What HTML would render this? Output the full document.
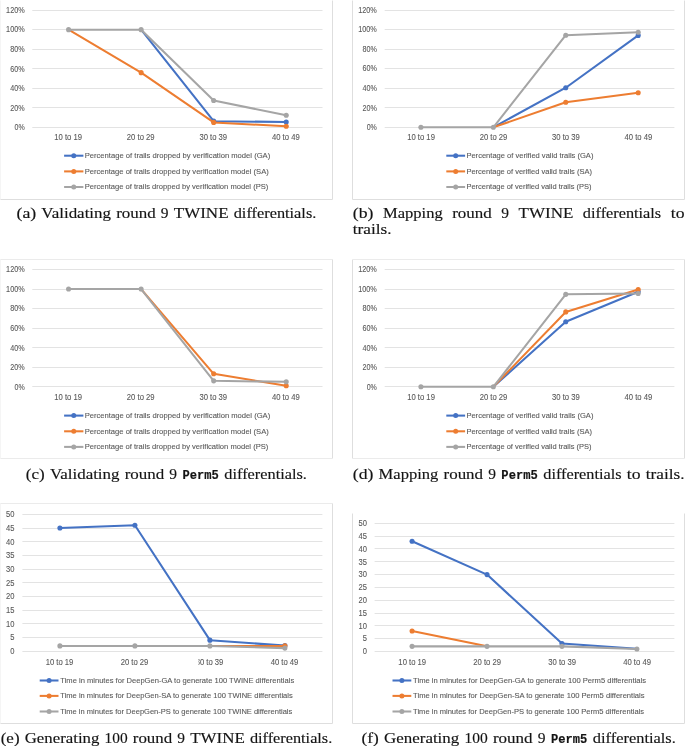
<!DOCTYPE html>
<html lang="en"><head><meta charset="utf-8"><title>Figure</title>
<style>html,body{margin:0;padding:0;background:#fff}svg{display:block}text{white-space:pre}.c text{stroke:#595959;stroke-width:.1px}</style></head><body>
<svg width="685" height="746" viewBox="0 0 685 746">
<rect width="685" height="746" fill="#fff"/>
<g class="c" font-family='"Liberation Sans", sans-serif' fill="#595959">
<path d="M0.5 0.5V199.5" stroke="#F5F5F5" stroke-width="1" fill="none"/>
<path d="M332.5 0.5V199.5" stroke="#DEDEDE" stroke-width="1" fill="none"/>
<path d="M0.5 199.5H332.5" stroke="#DEDEDE" stroke-width="1" fill="none"/>
<line x1="32.30" x2="322.50" y1="127.5" y2="127.5" stroke="#E3E3E3" stroke-width="1"/>
<text x="24.70" y="130.10" font-size="8.7" text-anchor="end" textLength="10.16" lengthAdjust="spacingAndGlyphs">0%</text>
<line x1="32.30" x2="322.50" y1="107.5" y2="107.5" stroke="#E3E3E3" stroke-width="1"/>
<text x="24.70" y="110.58" font-size="8.7" text-anchor="end" textLength="14.38" lengthAdjust="spacingAndGlyphs">20%</text>
<line x1="32.30" x2="322.50" y1="88.5" y2="88.5" stroke="#E3E3E3" stroke-width="1"/>
<text x="24.70" y="91.05" font-size="8.7" text-anchor="end" textLength="14.38" lengthAdjust="spacingAndGlyphs">40%</text>
<line x1="32.30" x2="322.50" y1="68.5" y2="68.5" stroke="#E3E3E3" stroke-width="1"/>
<text x="24.70" y="71.52" font-size="8.7" text-anchor="end" textLength="14.38" lengthAdjust="spacingAndGlyphs">60%</text>
<line x1="32.30" x2="322.50" y1="49.5" y2="49.5" stroke="#E3E3E3" stroke-width="1"/>
<text x="24.70" y="52.00" font-size="8.7" text-anchor="end" textLength="14.38" lengthAdjust="spacingAndGlyphs">80%</text>
<line x1="32.30" x2="322.50" y1="29.5" y2="29.5" stroke="#E3E3E3" stroke-width="1"/>
<text x="24.70" y="32.47" font-size="8.7" text-anchor="end" textLength="18.60" lengthAdjust="spacingAndGlyphs">100%</text>
<line x1="32.30" x2="322.50" y1="10.5" y2="10.5" stroke="#E3E3E3" stroke-width="1"/>
<text x="24.70" y="12.95" font-size="8.7" text-anchor="end" textLength="18.60" lengthAdjust="spacingAndGlyphs">120%</text>
<text x="68.17" y="140.00" font-size="8.7" text-anchor="middle" textLength="27.72" lengthAdjust="spacingAndGlyphs">10 to 19</text>
<text x="140.72" y="140.00" font-size="8.7" text-anchor="middle" textLength="27.72" lengthAdjust="spacingAndGlyphs">20 to 29</text>
<text x="213.28" y="140.00" font-size="8.7" text-anchor="middle" textLength="27.72" lengthAdjust="spacingAndGlyphs">30 to 39</text>
<text x="285.82" y="140.00" font-size="8.7" text-anchor="middle" textLength="27.72" lengthAdjust="spacingAndGlyphs">40 to 49</text>
<polyline points="141.12,29.67 213.68,121.15 286.22,122.03" fill="none" stroke="#4472C4" stroke-width="2.05" stroke-linejoin="round" stroke-linecap="round"/>
<circle cx="213.68" cy="121.15" r="2.55" fill="#4472C4"/>
<circle cx="286.22" cy="122.03" r="2.55" fill="#4472C4"/>
<polyline points="68.57,29.67 141.12,72.63 213.68,122.42 286.22,126.32" fill="none" stroke="#ED7D31" stroke-width="2.05" stroke-linejoin="round" stroke-linecap="round"/>
<circle cx="141.12" cy="72.63" r="2.55" fill="#ED7D31"/>
<circle cx="213.68" cy="122.42" r="2.55" fill="#ED7D31"/>
<circle cx="286.22" cy="126.32" r="2.55" fill="#ED7D31"/>
<polyline points="68.57,29.67 141.12,29.67 213.68,100.55 286.22,115.29" fill="none" stroke="#A5A5A5" stroke-width="2.05" stroke-linejoin="round" stroke-linecap="round"/>
<circle cx="68.57" cy="29.67" r="2.55" fill="#A5A5A5"/>
<circle cx="141.12" cy="29.67" r="2.55" fill="#A5A5A5"/>
<circle cx="213.68" cy="100.55" r="2.55" fill="#A5A5A5"/>
<circle cx="286.22" cy="115.29" r="2.55" fill="#A5A5A5"/>
<line x1="64.10" x2="83.40" y1="155.70" y2="155.70" stroke="#4472C4" stroke-width="2.05"/>
<circle cx="73.75" cy="155.70" r="2.5" fill="#4472C4"/>
<text x="84.70" y="158.05" font-size="8.0" textLength="185.55" lengthAdjust="spacingAndGlyphs">Percentage of trails dropped by verification model (GA)</text>
<line x1="64.10" x2="83.40" y1="171.40" y2="171.40" stroke="#ED7D31" stroke-width="2.05"/>
<circle cx="73.75" cy="171.40" r="2.5" fill="#ED7D31"/>
<text x="84.70" y="173.75" font-size="8.0" textLength="184.06" lengthAdjust="spacingAndGlyphs">Percentage of trails dropped by verification model (SA)</text>
<line x1="64.10" x2="83.40" y1="187.00" y2="187.00" stroke="#A5A5A5" stroke-width="2.05"/>
<circle cx="73.75" cy="187.00" r="2.5" fill="#A5A5A5"/>
<text x="84.70" y="189.35" font-size="8.0" textLength="183.60" lengthAdjust="spacingAndGlyphs">Percentage of trails dropped by verification model (PS)</text>
</g>
<g class="c" font-family='"Liberation Sans", sans-serif' fill="#595959">
<path d="M352.5 0.5V199.5" stroke="#DEDEDE" stroke-width="1" fill="none"/>
<path d="M684.5 0.5V199.5" stroke="#DEDEDE" stroke-width="1" fill="none"/>
<path d="M352.5 199.5H684.5" stroke="#DEDEDE" stroke-width="1" fill="none"/>
<line x1="384.70" x2="674.40" y1="127.5" y2="127.5" stroke="#E3E3E3" stroke-width="1"/>
<text x="376.80" y="130.10" font-size="8.7" text-anchor="end" textLength="10.16" lengthAdjust="spacingAndGlyphs">0%</text>
<line x1="384.70" x2="674.40" y1="107.5" y2="107.5" stroke="#E3E3E3" stroke-width="1"/>
<text x="376.80" y="110.55" font-size="8.7" text-anchor="end" textLength="14.38" lengthAdjust="spacingAndGlyphs">20%</text>
<line x1="384.70" x2="674.40" y1="88.5" y2="88.5" stroke="#E3E3E3" stroke-width="1"/>
<text x="376.80" y="91.00" font-size="8.7" text-anchor="end" textLength="14.38" lengthAdjust="spacingAndGlyphs">40%</text>
<line x1="384.70" x2="674.40" y1="68.5" y2="68.5" stroke="#E3E3E3" stroke-width="1"/>
<text x="376.80" y="71.45" font-size="8.7" text-anchor="end" textLength="14.38" lengthAdjust="spacingAndGlyphs">60%</text>
<line x1="384.70" x2="674.40" y1="49.5" y2="49.5" stroke="#E3E3E3" stroke-width="1"/>
<text x="376.80" y="51.90" font-size="8.7" text-anchor="end" textLength="14.38" lengthAdjust="spacingAndGlyphs">80%</text>
<line x1="384.70" x2="674.40" y1="29.5" y2="29.5" stroke="#E3E3E3" stroke-width="1"/>
<text x="376.80" y="32.35" font-size="8.7" text-anchor="end" textLength="18.60" lengthAdjust="spacingAndGlyphs">100%</text>
<line x1="384.70" x2="674.40" y1="10.5" y2="10.5" stroke="#E3E3E3" stroke-width="1"/>
<text x="376.80" y="12.80" font-size="8.7" text-anchor="end" textLength="18.60" lengthAdjust="spacingAndGlyphs">120%</text>
<text x="421.06" y="140.00" font-size="8.7" text-anchor="middle" textLength="27.72" lengthAdjust="spacingAndGlyphs">10 to 19</text>
<text x="493.49" y="140.00" font-size="8.7" text-anchor="middle" textLength="27.72" lengthAdjust="spacingAndGlyphs">20 to 29</text>
<text x="565.91" y="140.00" font-size="8.7" text-anchor="middle" textLength="27.72" lengthAdjust="spacingAndGlyphs">30 to 39</text>
<text x="638.34" y="140.00" font-size="8.7" text-anchor="middle" textLength="27.72" lengthAdjust="spacingAndGlyphs">40 to 49</text>
<polyline points="493.34,127.30 565.76,87.71 638.19,35.42" fill="none" stroke="#4472C4" stroke-width="2.05" stroke-linejoin="round" stroke-linecap="round"/>
<circle cx="565.76" cy="87.71" r="2.55" fill="#4472C4"/>
<circle cx="638.19" cy="35.42" r="2.55" fill="#4472C4"/>
<polyline points="493.34,127.30 565.76,102.28 638.19,92.70" fill="none" stroke="#ED7D31" stroke-width="2.05" stroke-linejoin="round" stroke-linecap="round"/>
<circle cx="565.76" cy="102.28" r="2.55" fill="#ED7D31"/>
<circle cx="638.19" cy="92.70" r="2.55" fill="#ED7D31"/>
<polyline points="420.91,127.30 493.34,127.30 565.76,35.22 638.19,32.19" fill="none" stroke="#A5A5A5" stroke-width="2.05" stroke-linejoin="round" stroke-linecap="round"/>
<circle cx="420.91" cy="127.30" r="2.55" fill="#A5A5A5"/>
<circle cx="493.34" cy="127.30" r="2.55" fill="#A5A5A5"/>
<circle cx="565.76" cy="35.22" r="2.55" fill="#A5A5A5"/>
<circle cx="638.19" cy="32.19" r="2.55" fill="#A5A5A5"/>
<line x1="446.30" x2="465.10" y1="155.70" y2="155.70" stroke="#4472C4" stroke-width="2.05"/>
<circle cx="455.70" cy="155.70" r="2.5" fill="#4472C4"/>
<text x="466.40" y="158.05" font-size="8.0" textLength="127.03" lengthAdjust="spacingAndGlyphs">Percentage of verified valid trails (GA)</text>
<line x1="446.30" x2="465.10" y1="171.40" y2="171.40" stroke="#ED7D31" stroke-width="2.05"/>
<circle cx="455.70" cy="171.40" r="2.5" fill="#ED7D31"/>
<text x="466.40" y="173.75" font-size="8.0" textLength="125.54" lengthAdjust="spacingAndGlyphs">Percentage of verified valid trails (SA)</text>
<line x1="446.30" x2="465.10" y1="187.00" y2="187.00" stroke="#A5A5A5" stroke-width="2.05"/>
<circle cx="455.70" cy="187.00" r="2.5" fill="#A5A5A5"/>
<text x="466.40" y="189.35" font-size="8.0" textLength="125.08" lengthAdjust="spacingAndGlyphs">Percentage of verified valid trails (PS)</text>
</g>
<g class="c" font-family='"Liberation Sans", sans-serif' fill="#595959">
<path d="M0.5 259.5V458.5" stroke="#F5F5F5" stroke-width="1" fill="none"/>
<path d="M0.5 259.5H332.5" stroke="#EBEBEB" stroke-width="1" fill="none"/>
<path d="M332.5 259.5V458.5" stroke="#DEDEDE" stroke-width="1" fill="none"/>
<path d="M0.5 458.5H332.5" stroke="#EBEBEB" stroke-width="1" fill="none"/>
<line x1="32.30" x2="322.50" y1="386.5" y2="386.5" stroke="#E3E3E3" stroke-width="1"/>
<text x="24.70" y="389.60" font-size="8.7" text-anchor="end" textLength="10.16" lengthAdjust="spacingAndGlyphs">0%</text>
<line x1="32.30" x2="322.50" y1="367.5" y2="367.5" stroke="#E3E3E3" stroke-width="1"/>
<text x="24.70" y="370.05" font-size="8.7" text-anchor="end" textLength="14.38" lengthAdjust="spacingAndGlyphs">20%</text>
<line x1="32.30" x2="322.50" y1="347.5" y2="347.5" stroke="#E3E3E3" stroke-width="1"/>
<text x="24.70" y="350.50" font-size="8.7" text-anchor="end" textLength="14.38" lengthAdjust="spacingAndGlyphs">40%</text>
<line x1="32.30" x2="322.50" y1="328.5" y2="328.5" stroke="#E3E3E3" stroke-width="1"/>
<text x="24.70" y="330.95" font-size="8.7" text-anchor="end" textLength="14.38" lengthAdjust="spacingAndGlyphs">60%</text>
<line x1="32.30" x2="322.50" y1="308.5" y2="308.5" stroke="#E3E3E3" stroke-width="1"/>
<text x="24.70" y="311.40" font-size="8.7" text-anchor="end" textLength="14.38" lengthAdjust="spacingAndGlyphs">80%</text>
<line x1="32.30" x2="322.50" y1="289.5" y2="289.5" stroke="#E3E3E3" stroke-width="1"/>
<text x="24.70" y="291.85" font-size="8.7" text-anchor="end" textLength="18.60" lengthAdjust="spacingAndGlyphs">100%</text>
<line x1="32.30" x2="322.50" y1="269.5" y2="269.5" stroke="#E3E3E3" stroke-width="1"/>
<text x="24.70" y="272.30" font-size="8.7" text-anchor="end" textLength="18.60" lengthAdjust="spacingAndGlyphs">120%</text>
<text x="68.17" y="399.80" font-size="8.7" text-anchor="middle" textLength="27.72" lengthAdjust="spacingAndGlyphs">10 to 19</text>
<text x="140.72" y="399.80" font-size="8.7" text-anchor="middle" textLength="27.72" lengthAdjust="spacingAndGlyphs">20 to 29</text>
<text x="213.28" y="399.80" font-size="8.7" text-anchor="middle" textLength="27.72" lengthAdjust="spacingAndGlyphs">30 to 39</text>
<text x="285.82" y="399.80" font-size="8.7" text-anchor="middle" textLength="27.72" lengthAdjust="spacingAndGlyphs">40 to 49</text>
<polyline points="141.12,289.05 213.68,373.80 286.22,385.82" fill="none" stroke="#ED7D31" stroke-width="2.05" stroke-linejoin="round" stroke-linecap="round"/>
<circle cx="213.68" cy="373.80" r="2.55" fill="#ED7D31"/>
<circle cx="286.22" cy="385.82" r="2.55" fill="#ED7D31"/>
<polyline points="68.57,289.05 141.12,289.05 213.68,380.84 286.22,381.81" fill="none" stroke="#A5A5A5" stroke-width="2.05" stroke-linejoin="round" stroke-linecap="round"/>
<circle cx="68.57" cy="289.05" r="2.55" fill="#A5A5A5"/>
<circle cx="141.12" cy="289.05" r="2.55" fill="#A5A5A5"/>
<circle cx="213.68" cy="380.84" r="2.55" fill="#A5A5A5"/>
<circle cx="286.22" cy="381.81" r="2.55" fill="#A5A5A5"/>
<line x1="64.10" x2="83.40" y1="415.60" y2="415.60" stroke="#4472C4" stroke-width="2.05"/>
<circle cx="73.75" cy="415.60" r="2.5" fill="#4472C4"/>
<text x="84.70" y="417.95" font-size="8.0" textLength="185.55" lengthAdjust="spacingAndGlyphs">Percentage of trails dropped by verification model (GA)</text>
<line x1="64.10" x2="83.40" y1="431.30" y2="431.30" stroke="#ED7D31" stroke-width="2.05"/>
<circle cx="73.75" cy="431.30" r="2.5" fill="#ED7D31"/>
<text x="84.70" y="433.65" font-size="8.0" textLength="184.06" lengthAdjust="spacingAndGlyphs">Percentage of trails dropped by verification model (SA)</text>
<line x1="64.10" x2="83.40" y1="446.90" y2="446.90" stroke="#A5A5A5" stroke-width="2.05"/>
<circle cx="73.75" cy="446.90" r="2.5" fill="#A5A5A5"/>
<text x="84.70" y="449.25" font-size="8.0" textLength="183.60" lengthAdjust="spacingAndGlyphs">Percentage of trails dropped by verification model (PS)</text>
</g>
<g class="c" font-family='"Liberation Sans", sans-serif' fill="#595959">
<path d="M352.5 259.5V458.5" stroke="#DEDEDE" stroke-width="1" fill="none"/>
<path d="M352.5 259.5H684.5" stroke="#EBEBEB" stroke-width="1" fill="none"/>
<path d="M684.5 259.5V458.5" stroke="#DEDEDE" stroke-width="1" fill="none"/>
<path d="M352.5 458.5H684.5" stroke="#EBEBEB" stroke-width="1" fill="none"/>
<line x1="384.70" x2="674.40" y1="386.5" y2="386.5" stroke="#E3E3E3" stroke-width="1"/>
<text x="376.80" y="389.60" font-size="8.7" text-anchor="end" textLength="10.16" lengthAdjust="spacingAndGlyphs">0%</text>
<line x1="384.70" x2="674.40" y1="367.5" y2="367.5" stroke="#E3E3E3" stroke-width="1"/>
<text x="376.80" y="370.05" font-size="8.7" text-anchor="end" textLength="14.38" lengthAdjust="spacingAndGlyphs">20%</text>
<line x1="384.70" x2="674.40" y1="347.5" y2="347.5" stroke="#E3E3E3" stroke-width="1"/>
<text x="376.80" y="350.50" font-size="8.7" text-anchor="end" textLength="14.38" lengthAdjust="spacingAndGlyphs">40%</text>
<line x1="384.70" x2="674.40" y1="328.5" y2="328.5" stroke="#E3E3E3" stroke-width="1"/>
<text x="376.80" y="330.95" font-size="8.7" text-anchor="end" textLength="14.38" lengthAdjust="spacingAndGlyphs">60%</text>
<line x1="384.70" x2="674.40" y1="308.5" y2="308.5" stroke="#E3E3E3" stroke-width="1"/>
<text x="376.80" y="311.40" font-size="8.7" text-anchor="end" textLength="14.38" lengthAdjust="spacingAndGlyphs">80%</text>
<line x1="384.70" x2="674.40" y1="289.5" y2="289.5" stroke="#E3E3E3" stroke-width="1"/>
<text x="376.80" y="291.85" font-size="8.7" text-anchor="end" textLength="18.60" lengthAdjust="spacingAndGlyphs">100%</text>
<line x1="384.70" x2="674.40" y1="269.5" y2="269.5" stroke="#E3E3E3" stroke-width="1"/>
<text x="376.80" y="272.30" font-size="8.7" text-anchor="end" textLength="18.60" lengthAdjust="spacingAndGlyphs">120%</text>
<text x="421.06" y="399.80" font-size="8.7" text-anchor="middle" textLength="27.72" lengthAdjust="spacingAndGlyphs">10 to 19</text>
<text x="493.49" y="399.80" font-size="8.7" text-anchor="middle" textLength="27.72" lengthAdjust="spacingAndGlyphs">20 to 29</text>
<text x="565.91" y="399.80" font-size="8.7" text-anchor="middle" textLength="27.72" lengthAdjust="spacingAndGlyphs">30 to 39</text>
<text x="638.34" y="399.80" font-size="8.7" text-anchor="middle" textLength="27.72" lengthAdjust="spacingAndGlyphs">40 to 49</text>
<polyline points="493.34,386.80 565.76,321.70 638.19,291.69" fill="none" stroke="#4472C4" stroke-width="2.05" stroke-linejoin="round" stroke-linecap="round"/>
<circle cx="565.76" cy="321.70" r="2.55" fill="#4472C4"/>
<circle cx="638.19" cy="291.69" r="2.55" fill="#4472C4"/>
<polyline points="493.34,386.80 565.76,311.92 638.19,289.44" fill="none" stroke="#ED7D31" stroke-width="2.05" stroke-linejoin="round" stroke-linecap="round"/>
<circle cx="565.76" cy="311.92" r="2.55" fill="#ED7D31"/>
<circle cx="638.19" cy="289.44" r="2.55" fill="#ED7D31"/>
<polyline points="420.91,386.80 493.34,386.80 565.76,294.33 638.19,293.45" fill="none" stroke="#A5A5A5" stroke-width="2.05" stroke-linejoin="round" stroke-linecap="round"/>
<circle cx="420.91" cy="386.80" r="2.55" fill="#A5A5A5"/>
<circle cx="493.34" cy="386.80" r="2.55" fill="#A5A5A5"/>
<circle cx="565.76" cy="294.33" r="2.55" fill="#A5A5A5"/>
<circle cx="638.19" cy="293.45" r="2.55" fill="#A5A5A5"/>
<line x1="446.30" x2="465.10" y1="415.60" y2="415.60" stroke="#4472C4" stroke-width="2.05"/>
<circle cx="455.70" cy="415.60" r="2.5" fill="#4472C4"/>
<text x="466.40" y="417.95" font-size="8.0" textLength="127.03" lengthAdjust="spacingAndGlyphs">Percentage of verified valid trails (GA)</text>
<line x1="446.30" x2="465.10" y1="431.30" y2="431.30" stroke="#ED7D31" stroke-width="2.05"/>
<circle cx="455.70" cy="431.30" r="2.5" fill="#ED7D31"/>
<text x="466.40" y="433.65" font-size="8.0" textLength="125.54" lengthAdjust="spacingAndGlyphs">Percentage of verified valid trails (SA)</text>
<line x1="446.30" x2="465.10" y1="446.90" y2="446.90" stroke="#A5A5A5" stroke-width="2.05"/>
<circle cx="455.70" cy="446.90" r="2.5" fill="#A5A5A5"/>
<text x="466.40" y="449.25" font-size="8.0" textLength="125.08" lengthAdjust="spacingAndGlyphs">Percentage of verified valid trails (PS)</text>
</g>
<g class="c" font-family='"Liberation Sans", sans-serif' fill="#595959">
<path d="M0.5 503.5V723.5" stroke="#F5F5F5" stroke-width="1" fill="none"/>
<path d="M0.5 503.5H332.5" stroke="#EBEBEB" stroke-width="1" fill="none"/>
<path d="M332.5 503.5V723.5" stroke="#DEDEDE" stroke-width="1" fill="none"/>
<path d="M0.5 723.5H332.5" stroke="#DEDEDE" stroke-width="1" fill="none"/>
<line x1="22.40" x2="322.40" y1="651.5" y2="651.5" stroke="#E3E3E3" stroke-width="1"/>
<text x="14.40" y="654.20" font-size="8.7" text-anchor="end" textLength="4.22" lengthAdjust="spacingAndGlyphs">0</text>
<line x1="22.40" x2="322.40" y1="637.5" y2="637.5" stroke="#E3E3E3" stroke-width="1"/>
<text x="14.40" y="640.49" font-size="8.7" text-anchor="end" textLength="4.22" lengthAdjust="spacingAndGlyphs">5</text>
<line x1="22.40" x2="322.40" y1="623.5" y2="623.5" stroke="#E3E3E3" stroke-width="1"/>
<text x="14.40" y="626.78" font-size="8.7" text-anchor="end" textLength="8.43" lengthAdjust="spacingAndGlyphs">10</text>
<line x1="22.40" x2="322.40" y1="610.5" y2="610.5" stroke="#E3E3E3" stroke-width="1"/>
<text x="14.40" y="613.07" font-size="8.7" text-anchor="end" textLength="8.43" lengthAdjust="spacingAndGlyphs">15</text>
<line x1="22.40" x2="322.40" y1="596.5" y2="596.5" stroke="#E3E3E3" stroke-width="1"/>
<text x="14.40" y="599.36" font-size="8.7" text-anchor="end" textLength="8.43" lengthAdjust="spacingAndGlyphs">20</text>
<line x1="22.40" x2="322.40" y1="582.5" y2="582.5" stroke="#E3E3E3" stroke-width="1"/>
<text x="14.40" y="585.65" font-size="8.7" text-anchor="end" textLength="8.43" lengthAdjust="spacingAndGlyphs">25</text>
<line x1="22.40" x2="322.40" y1="569.5" y2="569.5" stroke="#E3E3E3" stroke-width="1"/>
<text x="14.40" y="571.94" font-size="8.7" text-anchor="end" textLength="8.43" lengthAdjust="spacingAndGlyphs">30</text>
<line x1="22.40" x2="322.40" y1="555.5" y2="555.5" stroke="#E3E3E3" stroke-width="1"/>
<text x="14.40" y="558.23" font-size="8.7" text-anchor="end" textLength="8.43" lengthAdjust="spacingAndGlyphs">35</text>
<line x1="22.40" x2="322.40" y1="541.5" y2="541.5" stroke="#E3E3E3" stroke-width="1"/>
<text x="14.40" y="544.52" font-size="8.7" text-anchor="end" textLength="8.43" lengthAdjust="spacingAndGlyphs">40</text>
<line x1="22.40" x2="322.40" y1="528.5" y2="528.5" stroke="#E3E3E3" stroke-width="1"/>
<text x="14.40" y="530.81" font-size="8.7" text-anchor="end" textLength="8.43" lengthAdjust="spacingAndGlyphs">45</text>
<line x1="22.40" x2="322.40" y1="514.5" y2="514.5" stroke="#E3E3E3" stroke-width="1"/>
<text x="14.40" y="517.10" font-size="8.7" text-anchor="end" textLength="8.43" lengthAdjust="spacingAndGlyphs">50</text>
<text x="59.50" y="664.80" font-size="8.7" text-anchor="middle" textLength="27.72" lengthAdjust="spacingAndGlyphs">10 to 19</text>
<text x="134.50" y="664.80" font-size="8.7" text-anchor="middle" textLength="27.72" lengthAdjust="spacingAndGlyphs">20 to 29</text>
<text x="209.50" y="664.80" font-size="8.7" text-anchor="middle" textLength="27.72" lengthAdjust="spacingAndGlyphs">30 to 39</text>
<text x="284.50" y="664.80" font-size="8.7" text-anchor="middle" textLength="27.72" lengthAdjust="spacingAndGlyphs">40 to 49</text>
<polyline points="59.90,528.01 134.90,525.27 209.90,640.16 284.90,645.64" fill="none" stroke="#4472C4" stroke-width="2.05" stroke-linejoin="round" stroke-linecap="round"/>
<circle cx="59.90" cy="528.01" r="2.55" fill="#4472C4"/>
<circle cx="134.90" cy="525.27" r="2.55" fill="#4472C4"/>
<circle cx="209.90" cy="640.16" r="2.55" fill="#4472C4"/>
<circle cx="284.90" cy="645.64" r="2.55" fill="#4472C4"/>
<polyline points="209.90,645.92 284.90,645.92" fill="none" stroke="#ED7D31" stroke-width="2.05" stroke-linejoin="round" stroke-linecap="round"/>
<circle cx="284.90" cy="645.92" r="2.55" fill="#ED7D31"/>
<polyline points="59.90,645.92 134.90,645.92 209.90,645.92 284.90,648.11" fill="none" stroke="#A5A5A5" stroke-width="2.05" stroke-linejoin="round" stroke-linecap="round"/>
<circle cx="59.90" cy="645.92" r="2.55" fill="#A5A5A5"/>
<circle cx="134.90" cy="645.92" r="2.55" fill="#A5A5A5"/>
<circle cx="209.90" cy="645.92" r="2.55" fill="#A5A5A5"/>
<circle cx="284.90" cy="648.11" r="2.55" fill="#A5A5A5"/>
<line x1="39.70" x2="58.50" y1="680.50" y2="680.50" stroke="#4472C4" stroke-width="2.05"/>
<circle cx="49.10" cy="680.50" r="2.5" fill="#4472C4"/>
<text x="60.30" y="682.85" font-size="8.0" textLength="233.92" lengthAdjust="spacingAndGlyphs">Time in minutes for DeepGen-GA to generate 100 TWINE differentials</text>
<line x1="39.70" x2="58.50" y1="695.90" y2="695.90" stroke="#ED7D31" stroke-width="2.05"/>
<circle cx="49.10" cy="695.90" r="2.5" fill="#ED7D31"/>
<text x="60.30" y="698.25" font-size="8.0" textLength="232.43" lengthAdjust="spacingAndGlyphs">Time in minutes for DeepGen-SA to generate 100 TWINE differentials</text>
<line x1="39.70" x2="58.50" y1="711.50" y2="711.50" stroke="#A5A5A5" stroke-width="2.05"/>
<circle cx="49.10" cy="711.50" r="2.5" fill="#A5A5A5"/>
<text x="60.30" y="713.85" font-size="8.0" textLength="231.98" lengthAdjust="spacingAndGlyphs">Time in minutes for DeepGen-PS to generate 100 TWINE differentials</text>
</g>
<rect x="193" y="656" width="5.5" height="12" fill="#fff"/>
<g class="c" font-family='"Liberation Sans", sans-serif' fill="#595959">
<path d="M352.5 513.5V723.5" stroke="#DEDEDE" stroke-width="1" fill="none"/>
<path d="M684.5 513.5V723.5" stroke="#DEDEDE" stroke-width="1" fill="none"/>
<path d="M352.5 723.5H684.5" stroke="#DEDEDE" stroke-width="1" fill="none"/>
<line x1="374.60" x2="674.40" y1="651.5" y2="651.5" stroke="#E3E3E3" stroke-width="1"/>
<text x="366.90" y="654.30" font-size="8.7" text-anchor="end" textLength="4.22" lengthAdjust="spacingAndGlyphs">0</text>
<line x1="374.60" x2="674.40" y1="638.5" y2="638.5" stroke="#E3E3E3" stroke-width="1"/>
<text x="366.90" y="641.48" font-size="8.7" text-anchor="end" textLength="4.22" lengthAdjust="spacingAndGlyphs">5</text>
<line x1="374.60" x2="674.40" y1="625.5" y2="625.5" stroke="#E3E3E3" stroke-width="1"/>
<text x="366.90" y="628.67" font-size="8.7" text-anchor="end" textLength="8.43" lengthAdjust="spacingAndGlyphs">10</text>
<line x1="374.60" x2="674.40" y1="613.5" y2="613.5" stroke="#E3E3E3" stroke-width="1"/>
<text x="366.90" y="615.86" font-size="8.7" text-anchor="end" textLength="8.43" lengthAdjust="spacingAndGlyphs">15</text>
<line x1="374.60" x2="674.40" y1="600.5" y2="600.5" stroke="#E3E3E3" stroke-width="1"/>
<text x="366.90" y="603.04" font-size="8.7" text-anchor="end" textLength="8.43" lengthAdjust="spacingAndGlyphs">20</text>
<line x1="374.60" x2="674.40" y1="587.5" y2="587.5" stroke="#E3E3E3" stroke-width="1"/>
<text x="366.90" y="590.22" font-size="8.7" text-anchor="end" textLength="8.43" lengthAdjust="spacingAndGlyphs">25</text>
<line x1="374.60" x2="674.40" y1="574.5" y2="574.5" stroke="#E3E3E3" stroke-width="1"/>
<text x="366.90" y="577.41" font-size="8.7" text-anchor="end" textLength="8.43" lengthAdjust="spacingAndGlyphs">30</text>
<line x1="374.60" x2="674.40" y1="561.5" y2="561.5" stroke="#E3E3E3" stroke-width="1"/>
<text x="366.90" y="564.60" font-size="8.7" text-anchor="end" textLength="8.43" lengthAdjust="spacingAndGlyphs">35</text>
<line x1="374.60" x2="674.40" y1="548.5" y2="548.5" stroke="#E3E3E3" stroke-width="1"/>
<text x="366.90" y="551.78" font-size="8.7" text-anchor="end" textLength="8.43" lengthAdjust="spacingAndGlyphs">40</text>
<line x1="374.60" x2="674.40" y1="536.5" y2="536.5" stroke="#E3E3E3" stroke-width="1"/>
<text x="366.90" y="538.96" font-size="8.7" text-anchor="end" textLength="8.43" lengthAdjust="spacingAndGlyphs">45</text>
<line x1="374.60" x2="674.40" y1="523.5" y2="523.5" stroke="#E3E3E3" stroke-width="1"/>
<text x="366.90" y="526.15" font-size="8.7" text-anchor="end" textLength="8.43" lengthAdjust="spacingAndGlyphs">50</text>
<text x="412.23" y="664.60" font-size="8.7" text-anchor="middle" textLength="27.72" lengthAdjust="spacingAndGlyphs">10 to 19</text>
<text x="487.17" y="664.60" font-size="8.7" text-anchor="middle" textLength="27.72" lengthAdjust="spacingAndGlyphs">20 to 29</text>
<text x="562.12" y="664.60" font-size="8.7" text-anchor="middle" textLength="27.72" lengthAdjust="spacingAndGlyphs">30 to 39</text>
<text x="637.07" y="664.60" font-size="8.7" text-anchor="middle" textLength="27.72" lengthAdjust="spacingAndGlyphs">40 to 49</text>
<polyline points="412.08,541.29 487.02,574.61 561.98,643.55 636.92,648.68" fill="none" stroke="#4472C4" stroke-width="2.05" stroke-linejoin="round" stroke-linecap="round"/>
<circle cx="412.08" cy="541.29" r="2.55" fill="#4472C4"/>
<circle cx="487.02" cy="574.61" r="2.55" fill="#4472C4"/>
<circle cx="561.98" cy="643.55" r="2.55" fill="#4472C4"/>
<polyline points="412.08,631.00 487.02,646.37" fill="none" stroke="#ED7D31" stroke-width="2.05" stroke-linejoin="round" stroke-linecap="round"/>
<circle cx="412.08" cy="631.00" r="2.55" fill="#ED7D31"/>
<polyline points="412.08,646.37 487.02,646.37 561.98,646.37 636.92,648.94" fill="none" stroke="#A5A5A5" stroke-width="2.05" stroke-linejoin="round" stroke-linecap="round"/>
<circle cx="412.08" cy="646.37" r="2.55" fill="#A5A5A5"/>
<circle cx="487.02" cy="646.37" r="2.55" fill="#A5A5A5"/>
<circle cx="561.98" cy="646.37" r="2.55" fill="#A5A5A5"/>
<circle cx="636.92" cy="648.94" r="2.55" fill="#A5A5A5"/>
<line x1="392.50" x2="411.30" y1="680.50" y2="680.50" stroke="#4472C4" stroke-width="2.05"/>
<circle cx="401.90" cy="680.50" r="2.5" fill="#4472C4"/>
<text x="413.10" y="682.85" font-size="8.0" textLength="232.97" lengthAdjust="spacingAndGlyphs">Time in minutes for DeepGen-GA to generate 100 Perm5 differentials</text>
<line x1="392.50" x2="411.30" y1="695.90" y2="695.90" stroke="#ED7D31" stroke-width="2.05"/>
<circle cx="401.90" cy="695.90" r="2.5" fill="#ED7D31"/>
<text x="413.10" y="698.25" font-size="8.0" textLength="231.48" lengthAdjust="spacingAndGlyphs">Time in minutes for DeepGen-SA to generate 100 Perm5 differentials</text>
<line x1="392.50" x2="411.30" y1="711.50" y2="711.50" stroke="#A5A5A5" stroke-width="2.05"/>
<circle cx="401.90" cy="711.50" r="2.5" fill="#A5A5A5"/>
<text x="413.10" y="713.85" font-size="8.0" textLength="231.03" lengthAdjust="spacingAndGlyphs">Time in minutes for DeepGen-PS to generate 100 Perm5 differentials</text>
</g>
<text y="218.30" font-family='"Liberation Serif", serif' font-size="14.8" fill="#141414" stroke="#141414" stroke-width="0.15"><tspan x="16.46" textLength="19.77" lengthAdjust="spacingAndGlyphs">(a)</tspan> <tspan x="41.39" textLength="69.62" lengthAdjust="spacingAndGlyphs">Validating</tspan> <tspan x="116.16" textLength="39.56" lengthAdjust="spacingAndGlyphs">round</tspan> <tspan x="160.88" textLength="7.74" lengthAdjust="spacingAndGlyphs">9</tspan> <tspan x="173.77" textLength="54.78" lengthAdjust="spacingAndGlyphs">TWINE</tspan> <tspan x="233.71" textLength="82.63" lengthAdjust="spacingAndGlyphs">differentials.</tspan></text>
<text y="218.40" font-family='"Liberation Serif", serif' font-size="14.8" fill="#141414" stroke="#141414" stroke-width="0.15"><tspan x="352.80" textLength="20.63" lengthAdjust="spacingAndGlyphs">(b)</tspan> <tspan x="382.96" textLength="59.74" lengthAdjust="spacingAndGlyphs">Mapping</tspan> <tspan x="452.23" textLength="39.56" lengthAdjust="spacingAndGlyphs">round</tspan> <tspan x="501.31" textLength="7.74" lengthAdjust="spacingAndGlyphs">9</tspan> <tspan x="518.58" textLength="54.78" lengthAdjust="spacingAndGlyphs">TWINE</tspan> <tspan x="582.89" textLength="78.33" lengthAdjust="spacingAndGlyphs">differentials</tspan> <tspan x="670.75" textLength="13.75" lengthAdjust="spacingAndGlyphs">to</tspan></text>
<text y="233.60" font-family='"Liberation Serif", serif' font-size="14.8" fill="#141414" stroke="#141414" stroke-width="0.15"><tspan x="352.80" textLength="38.79" lengthAdjust="spacingAndGlyphs">trails.</tspan></text>
<text y="478.50" font-family='"Liberation Serif", serif' font-size="14.8" fill="#141414" stroke="#141414" stroke-width="0.15"><tspan x="25.83" textLength="18.91" lengthAdjust="spacingAndGlyphs">(c)</tspan> <tspan x="49.90" textLength="69.62" lengthAdjust="spacingAndGlyphs">Validating</tspan> <tspan x="124.67" textLength="39.56" lengthAdjust="spacingAndGlyphs">round</tspan> <tspan x="169.39" textLength="7.74" lengthAdjust="spacingAndGlyphs">9</tspan> <tspan x="182.48" font-family='"Liberation Mono", monospace' font-weight="bold" font-size="12.0" textLength="36.30" lengthAdjust="spacingAndGlyphs">Perm5</tspan> <tspan x="224.34" textLength="82.63" lengthAdjust="spacingAndGlyphs">differentials.</tspan></text>
<text y="478.50" font-family='"Liberation Serif", serif' font-size="14.8" fill="#141414" stroke="#141414" stroke-width="0.15"><tspan x="352.80" textLength="20.63" lengthAdjust="spacingAndGlyphs">(d)</tspan> <tspan x="378.61" textLength="59.74" lengthAdjust="spacingAndGlyphs">Mapping</tspan> <tspan x="443.53" textLength="39.56" lengthAdjust="spacingAndGlyphs">round</tspan> <tspan x="488.27" textLength="7.74" lengthAdjust="spacingAndGlyphs">9</tspan> <tspan x="501.39" font-family='"Liberation Mono", monospace' font-weight="bold" font-size="12.0" textLength="36.30" lengthAdjust="spacingAndGlyphs">Perm5</tspan> <tspan x="543.27" textLength="78.33" lengthAdjust="spacingAndGlyphs">differentials</tspan> <tspan x="626.78" textLength="13.75" lengthAdjust="spacingAndGlyphs">to</tspan> <tspan x="645.71" textLength="38.79" lengthAdjust="spacingAndGlyphs">trails.</tspan></text>
<text y="743.10" font-family='"Liberation Serif", serif' font-size="14.8" fill="#141414" stroke="#141414" stroke-width="0.15"><tspan x="0.73" textLength="18.85" lengthAdjust="spacingAndGlyphs">(e)</tspan> <tspan x="24.71" textLength="74.66" lengthAdjust="spacingAndGlyphs">Generating</tspan> <tspan x="104.51" textLength="23.13" lengthAdjust="spacingAndGlyphs">100</tspan> <tspan x="132.78" textLength="39.42" lengthAdjust="spacingAndGlyphs">round</tspan> <tspan x="177.35" textLength="7.71" lengthAdjust="spacingAndGlyphs">9</tspan> <tspan x="190.20" textLength="54.60" lengthAdjust="spacingAndGlyphs">TWINE</tspan> <tspan x="249.93" textLength="82.34" lengthAdjust="spacingAndGlyphs">differentials.</tspan></text>
<text y="743.10" font-family='"Liberation Serif", serif' font-size="14.8" fill="#141414" stroke="#141414" stroke-width="0.15"><tspan x="361.58" textLength="17.28" lengthAdjust="spacingAndGlyphs">(f)</tspan> <tspan x="384.04" textLength="75.23" lengthAdjust="spacingAndGlyphs">Generating</tspan> <tspan x="464.44" textLength="23.31" lengthAdjust="spacingAndGlyphs">100</tspan> <tspan x="492.93" textLength="39.72" lengthAdjust="spacingAndGlyphs">round</tspan> <tspan x="537.83" textLength="7.77" lengthAdjust="spacingAndGlyphs">9</tspan> <tspan x="550.97" font-family='"Liberation Mono", monospace' font-weight="bold" font-size="12.0" textLength="36.30" lengthAdjust="spacingAndGlyphs">Perm5</tspan> <tspan x="592.85" textLength="82.97" lengthAdjust="spacingAndGlyphs">differentials.</tspan></text>
</svg></body></html>
